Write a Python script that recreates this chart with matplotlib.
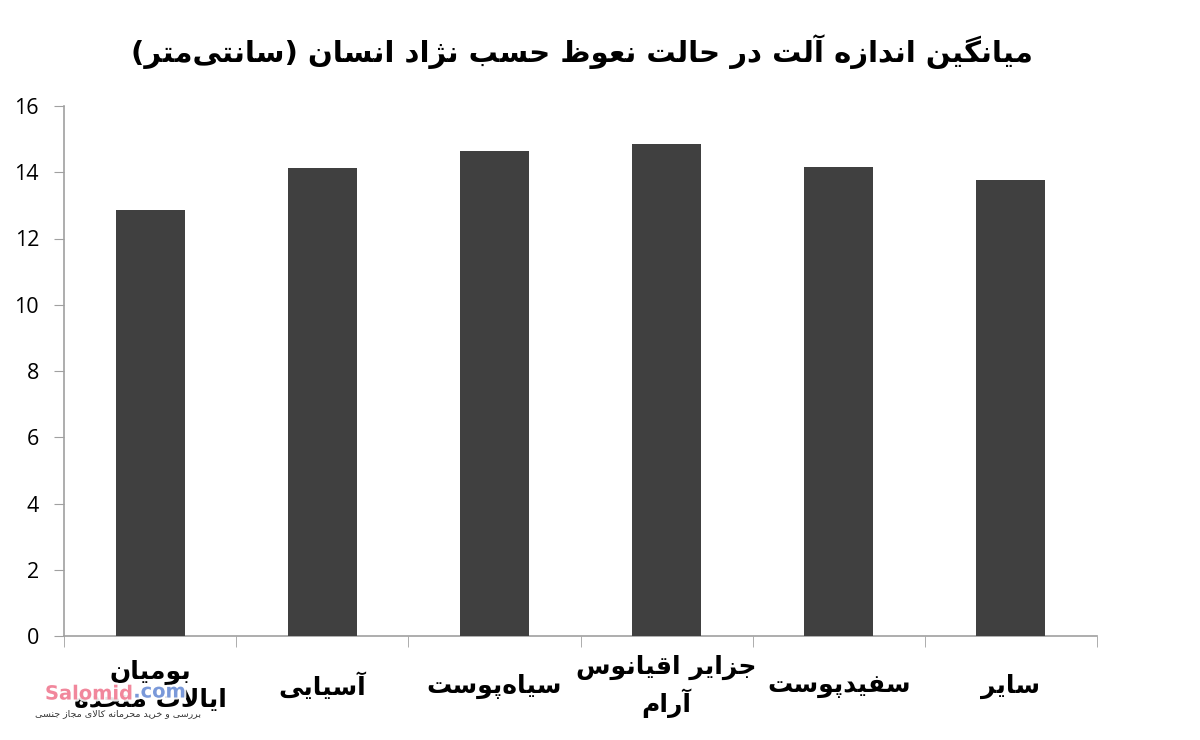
import matplotlib.pyplot as plt
import matplotlib.patheffects as pe
import matplotlib.transforms as mtransforms

# data
categories = ["بومیان\nایالات متحده", "آسیایی", "سیاه\u200cپوست",
              "جزایر اقیانوس\nآرام", "سفیدپوست", "سایر"]
values = [12.86, 14.14, 14.65, 14.86, 14.17, 13.78]
yticks = [0, 2, 4, 6, 8, 10, 12, 14, 16]
title = "میانگین اندازه آلت در حالت نعوظ حسب نژاد انسان (سانتی\u200cمتر)"
wm_sub = "بررسی و خرید محرمانه کالای مجاز جنسی"

# matplotlib has no arabic shaping, so do it by hand with presentation forms
# (isolated, final, initial, medial); None -> letter does not join forward
FORMS = {
    'ا': (0xFE8D, 0xFE8E, None, None), 'آ': (0xFE81, 0xFE82, None, None),
    'د': (0xFEA9, 0xFEAA, None, None), 'ر': (0xFEAD, 0xFEAE, None, None),
    'ز': (0xFEAF, 0xFEB0, None, None), 'ژ': (0xFB8A, 0xFB8B, None, None),
    'و': (0xFEED, 0xFEEE, None, None),
    'ب': (0xFE8F, 0xFE90, 0xFE91, 0xFE92), 'پ': (0xFB56, 0xFB57, 0xFB58, 0xFB59),
    'ت': (0xFE95, 0xFE96, 0xFE97, 0xFE98), 'ج': (0xFE9D, 0xFE9E, 0xFE9F, 0xFEA0),
    'ح': (0xFEA1, 0xFEA2, 0xFEA3, 0xFEA4), 'خ': (0xFEA5, 0xFEA6, 0xFEA7, 0xFEA8),
    'س': (0xFEB1, 0xFEB2, 0xFEB3, 0xFEB4), 'ظ': (0xFEC5, 0xFEC6, 0xFEC7, 0xFEC8),
    'ع': (0xFEC9, 0xFECA, 0xFECB, 0xFECC), 'ف': (0xFED1, 0xFED2, 0xFED3, 0xFED4),
    'ق': (0xFED5, 0xFED6, 0xFED7, 0xFED8), 'ک': (0xFB8E, 0xFB8F, 0xFB90, 0xFB91),
    'گ': (0xFB92, 0xFB93, 0xFB94, 0xFB95), 'ل': (0xFEDD, 0xFEDE, 0xFEDF, 0xFEE0),
    'م': (0xFEE1, 0xFEE2, 0xFEE3, 0xFEE4), 'ن': (0xFEE5, 0xFEE6, 0xFEE7, 0xFEE8),
    'ه': (0xFEE9, 0xFEEA, 0xFEEB, 0xFEEC), 'ی': (0xFBFC, 0xFBFD, 0xFBFE, 0xFBFF),
}
LAMALEF = {'ا': (0xFEFB, 0xFEFC), 'آ': (0xFEF5, 0xFEF6)}


def shape_line(s):
    out = []
    i = 0
    while i < len(s):
        c = s[i]
        if c not in FORMS:
            if c != '\u200c':
                out.append(c)
            i += 1
            continue
        prev = s[i - 1] if i > 0 else ''
        joins_prev = prev in FORMS and FORMS[prev][2] is not None
        nxt = s[i + 1] if i + 1 < len(s) else ''
        if c == 'ل' and nxt in LAMALEF:
            out.append(chr(LAMALEF[nxt][1 if joins_prev else 0]))
            i += 2
            continue
        joins_next = FORMS[c][2] is not None and nxt in FORMS
        f = FORMS[c]
        if joins_prev and joins_next:
            out.append(chr(f[3]))
        elif joins_prev:
            out.append(chr(f[1]))
        elif joins_next:
            out.append(chr(f[2]))
        else:
            out.append(chr(f[0]))
        i += 1
    vis = ''.join(reversed(out))
    return vis.translate(str.maketrans('()', ')('))


def fa(s):
    return '\n'.join(shape_line(l) for l in s.split('\n'))


plt.rcParams['font.family'] = ['DejaVu Sans']
fig = plt.figure(figsize=(12, 7.4), dpi=100)
ax = fig.add_axes([64 / 1200, 1 - 636 / 740, 1033 / 1200, 530 / 740])

x = list(range(len(values)))
ax.bar(x, values, width=0.4, color='#404040', zorder=3)

ax.set_xlim(-0.5, len(values) - 0.5)
ax.set_ylim(0, 16)
ax.set_yticks(yticks)
ax.set_yticklabels([str(t) for t in yticks], fontsize=15.5, family='Open Sans')
ax.tick_params(axis='y', length=7, color='#a0a0a0', pad=11)

ax.set_xticks(x)
ax.set_xticklabels([fa(c) for c in categories], fontsize=18, fontweight='bold',
                   va='center', linespacing=1.2)
# the pacific islands label sits a bit lower and looser in the original
lab = ax.get_xticklabels()[3]
lab.set_linespacing(1.35)
lab.set_transform(lab.get_transform() +
                  mtransforms.ScaledTranslation(0, -6 / 72, fig.dpi_scale_trans))
ax.tick_params(axis='x', which='major', length=0, pad=36)
ax.set_xticks([i - 0.5 for i in range(len(values) + 1)], minor=True)
ax.tick_params(axis='x', which='minor', length=8, color='#a0a0a0', direction='out')

for s in ['top', 'right']:
    ax.spines[s].set_visible(False)
for s in ['left', 'bottom']:
    ax.spines[s].set_color('#a0a0a0')
    ax.spines[s].set_linewidth(1.2)

fig.text(582 / 1200, 1 - 52 / 740, fa(title), fontsize=21, fontweight='bold',
         ha='center', va='center')

# watermark
wm = fig.text(45 / 1200, 1 - 694 / 740, "Salomid", fontsize=14, fontweight='bold',
              color='#f07b92', ha='left', va='center', alpha=0.9)
wm.set_path_effects([pe.withStroke(linewidth=3, foreground='white')])
wm2 = fig.text(186 / 1200, 1 - 692 / 740, ".com", fontsize=14, fontweight='bold',
               color='#6d8fd6', ha='right', va='center', alpha=0.9)
wm2.set_path_effects([pe.withStroke(linewidth=3, foreground='white')])
fig.text(118 / 1200, 1 - 714 / 740, fa(wm_sub), fontsize=6.8, color='#333333',
         ha='center', va='center')

fig.savefig('out.png', dpi=100)
